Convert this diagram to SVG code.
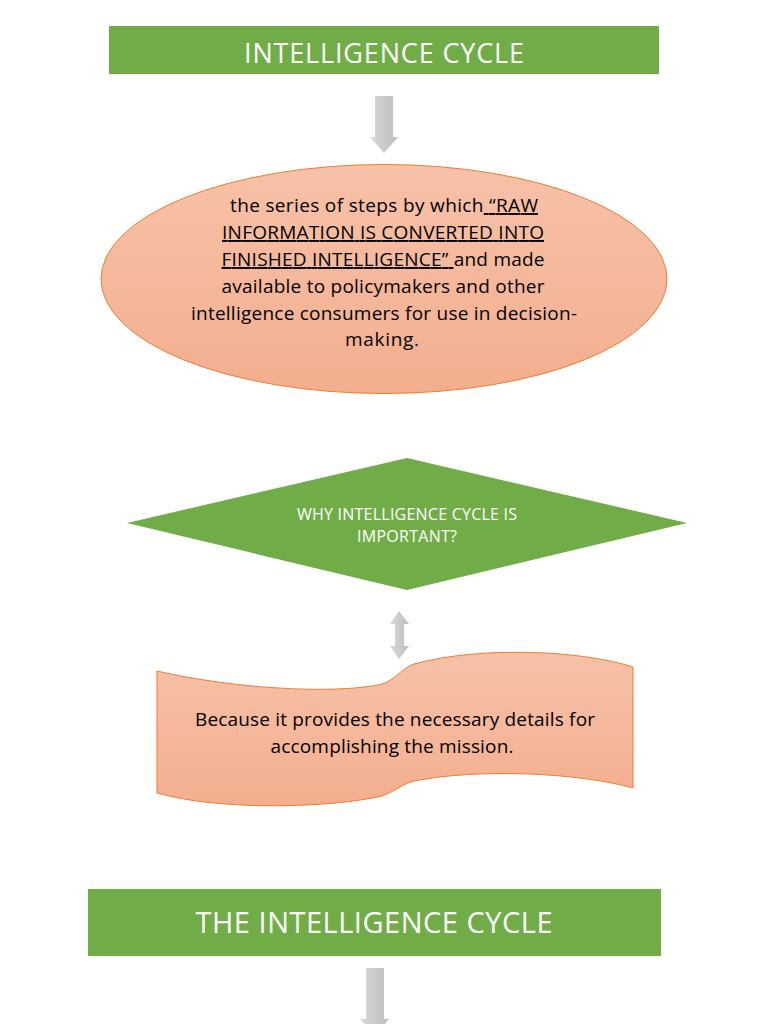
<svg xmlns="http://www.w3.org/2000/svg" width="768" height="1024" viewBox="0 0 768 1024">
<defs>
<linearGradient id="gray" x1="0" y1="0" x2="1" y2="0">
<stop offset="0" stop-color="#D8D8D8"/>
<stop offset="1" stop-color="#BEBEBE"/>
</linearGradient>
<linearGradient id="salmon" x1="0" y1="0" x2="0" y2="1">
<stop offset="0" stop-color="#F7C2A8"/>
<stop offset="1" stop-color="#F3AE8F"/>
</linearGradient>
<style>
.green{fill:#70AD47;}
.peach{fill:url(#salmon);stroke:#ED7D31;stroke-width:1;}
.arrow{fill:url(#gray);}
.wt{font-family:"Open Sans","Liberation Sans",sans-serif;fill:#FFFFFF;text-anchor:middle;}
.bt{font-family:"Open Sans","Liberation Sans",sans-serif;fill:#000000;text-anchor:middle;font-size:19px;}
.u{text-decoration:underline;}
</style>
</defs>
<rect width="768" height="1024" fill="#FFFFFF"/>

<g id="title">
<rect class="green" x="109" y="26" width="550" height="48"/>
<text class="wt" x="384" y="63" font-size="27" textLength="280">INTELLIGENCE CYCLE</text>
</g>

<g id="definition">
<ellipse class="peach" cx="384" cy="279" rx="283" ry="114.5"/>
<text class="bt" x="384" y="212" textLength="308">the series of steps by which<tspan class="u"> “RAW</tspan></text>
<text class="bt" x="383" y="239" textLength="322"><tspan class="u">INFORMATION IS CONVERTED INTO</tspan></text>
<text class="bt" x="383" y="266" textLength="323"><tspan class="u">FINISHED INTELLIGENCE” </tspan>and made</text>
<text class="bt" x="383" y="293" textLength="323">available to policymakers and other</text>
<text class="bt" x="384" y="320" textLength="386">intelligence consumers for use in decision-</text>
<text class="bt" x="382" y="346" textLength="74">making.</text>
</g>

<g id="question">
<polygon class="green" points="407,458 687,523 407,590 127,523"/>
<text class="wt" x="407" y="520" font-size="16" textLength="220">WHY INTELLIGENCE CYCLE IS</text>
<text class="wt" x="407" y="542" font-size="16" textLength="100">IMPORTANT?</text>
</g>

<g id="answer">
<path class="peach" d="M157,671 C240,690 340,694 382,684 C396,680 400,669 414,664 C480,646 580,650 633,667 L633,788 C580,773 480,768 414,781 C400,785 396,791 382,796 C330,808 220,811 157,793 Z"/>
<text class="bt" x="395" y="726" textLength="400">Because it provides the necessary details for</text>
<text class="bt" x="392" y="753" textLength="243">accomplishing the mission.</text>
</g>

<g id="title2">
<rect class="green" x="88" y="889" width="573" height="67"/>
<text class="wt" x="374" y="933" font-size="29" textLength="357">THE INTELLIGENCE CYCLE</text>
</g>

<g id="connectors">
<polygon class="arrow" points="375,96 393,96 393,137 398,137 384,153 370,137 375,137"/>
<polygon class="arrow" points="399,611 409,624 404,624 404,646 409,646 399,659 390,646 395,646 395,624 390,624"/>
<polygon class="arrow" points="366,968 384,968 384,1019 389,1019 375,1035 360,1019 366,1019"/>
</g>
</svg>
